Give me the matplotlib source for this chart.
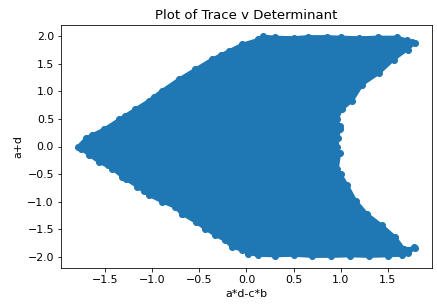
import numpy as np
import matplotlib
matplotlib.use("Agg")
import matplotlib.pyplot as plt

# outline of the trace/determinant cloud (point centres)
# going round from the left tip: lower-left, bottom, right notch, top, upper-left
det_edge = [-1.79, -1.76, -1.67, -1.57, -1.43, -1.32, -1.285, -1.16, -1.04, -0.90,
            -0.76, -0.69, -0.54, -0.44, -0.33, -0.23, -0.155, -0.05, 0.02,
            0.12, 0.30, 0.50, 0.70, 0.90, 1.10, 1.30, 1.50, 1.65, 1.72, 1.79,
            1.67, 1.58, 1.44, 1.28, 1.16, 1.07, 1.00,
            0.965, 0.99, 0.965, 0.97, 0.99, 0.965,
            1.01, 1.12, 1.23, 1.41, 1.565, 1.71, 1.785,
            1.70, 1.60, 1.40, 1.20, 1.00, 0.85, 0.65, 0.50, 0.30, 0.18,
            0.125, -0.05, -0.19, -0.37, -0.545, -0.72, -0.90, -1.04, -1.18,
            -1.355, -1.51, -1.70]
trace_edge = [0.0, -0.04, -0.16, -0.28, -0.40, -0.55, -0.59, -0.73, -0.88, -1.00,
              -1.10, -1.22, -1.37, -1.49, -1.61, -1.70, -1.82, -1.88, -1.94,
              -1.97, -1.98, -1.97, -1.99, -1.99, -1.98, -1.99, -1.98, -1.97, -1.93, -1.84,
              -1.85, -1.64, -1.43, -1.22, -0.98, -0.70, -0.50,
              -0.40, -0.12, 0.0, 0.15, 0.32, 0.50,
              0.67, 0.82, 1.12, 1.33, 1.575, 1.756, 1.87,
              1.93, 1.98, 1.98, 1.97, 1.98, 1.99, 1.99, 1.97, 1.98, 2.00,
              1.94, 1.85, 1.73, 1.58, 1.40, 1.22, 1.01, 0.83, 0.68,
              0.49, 0.32, 0.16]

# a few stray points sitting just outside the main outline
det_stray = [-1.64, -1.29, -0.98, -0.62, -0.27, 0.05, -1.47, -1.09, -0.68, 1.76, 1.78, 0.99]
trace_stray = [0.21, 0.55, 0.90, 1.27, 1.66, -1.90, -0.34, -0.81, -1.23, 1.90, -1.82, 0.38]

plt.rcParams["font.size"] = 11
col = "#1f77b4"

fig = plt.figure(figsize=(437 / 72, 308 / 72), dpi=72)
ax = fig.add_axes([61 / 437, 1 - 268 / 308, 371 / 437, 243 / 308])

# dense interior of the cloud
ax.fill(det_edge, trace_edge, facecolor=col, edgecolor=col, linewidth=3,
        joinstyle="round")
# the outer points give the bumpy edge
ax.scatter(det_edge + det_stray, trace_edge + trace_stray, color=col)

ax.set_xlim(-1.97, 1.97)
ax.set_ylim(-2.2, 2.2)
ax.set_title("Plot of Trace v Determinant")
ax.set_xlabel("a*d-c*b")
ax.set_ylabel("a+d")

fig.savefig("out.png", dpi=72)
